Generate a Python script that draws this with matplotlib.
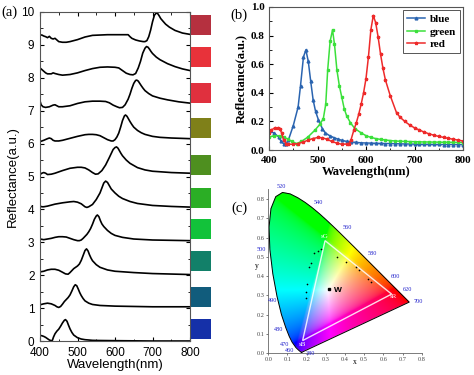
import numpy as np
import matplotlib
matplotlib.use('Agg')
import matplotlib.pyplot as plt
from matplotlib.path import Path
from matplotlib.patches import Rectangle, Polygon

# ---------------- (a) stacked reflectance spectra ----------------
wl_s0 = [400, 405, 410, 415, 420, 425, 430, 433, 436, 440, 445, 450, 455, 460, 465, 468, 472, 476, 480, 485, 490, 500, 510, 520, 540, 560, 600, 700, 800]
r_s0 = [0.17, 0.16, 0.14, 0.11, 0.07, 0.03, 0.01, 0.02, 0.12, 0.22, 0.30, 0.36, 0.45, 0.55, 0.63, 0.65, 0.60, 0.48, 0.37, 0.26, 0.18, 0.10, 0.06, 0.04, 0.02, 0.015, 0.01, 0.0, 0.0]

wl_s1 = [400, 410, 420, 430, 440, 445, 450, 455, 460, 465, 470, 475, 480, 485, 490, 494, 498, 502, 506, 510, 515, 520, 530, 540, 560, 600, 700, 800]
r_s1 = [1.10, 1.13, 1.15, 1.13, 1.08, 1.04, 1.02, 1.05, 1.12, 1.20, 1.26, 1.32, 1.40, 1.52, 1.65, 1.71, 1.68, 1.58, 1.47, 1.38, 1.29, 1.22, 1.15, 1.11, 1.08, 1.06, 1.04, 1.04]

wl_s2 = [400, 410, 420, 430, 440, 450, 460, 468, 475, 480, 485, 490, 500, 505, 510, 515, 520, 524, 528, 532, 536, 540, 550, 560, 580, 600, 650, 700, 800]
r_s2 = [2.10, 2.12, 2.16, 2.18, 2.18, 2.15, 2.09, 2.04, 2.03, 2.08, 2.14, 2.20, 2.28, 2.34, 2.45, 2.60, 2.75, 2.80, 2.74, 2.62, 2.52, 2.44, 2.32, 2.24, 2.16, 2.12, 2.08, 2.05, 2.02]

wl_s3 = [400, 410, 420, 430, 440, 450, 460, 470, 480, 490, 500, 505, 510, 515, 520, 525, 530, 535, 540, 545, 550, 553, 557, 561, 565, 570, 580, 590, 600, 620, 650, 700, 800]
r_s3 = [3.10, 3.08, 3.10, 3.12, 3.15, 3.17, 3.17, 3.16, 3.12, 3.08, 3.05, 3.05, 3.07, 3.12, 3.18, 3.24, 3.32, 3.42, 3.55, 3.70, 3.80, 3.83, 3.78, 3.66, 3.56, 3.48, 3.36, 3.27, 3.21, 3.15, 3.10, 3.07, 3.05]

wl_s4 = [400, 405, 410, 420, 430, 440, 460, 480, 490, 500, 510, 520, 525, 530, 540, 550, 560, 565, 570, 575, 580, 585, 590, 600, 610, 620, 640, 660, 700, 750, 800]
r_s4 = [4.10, 4.08, 4.08, 4.10, 4.13, 4.16, 4.20, 4.23, 4.24, 4.22, 4.17, 4.08, 4.06, 4.08, 4.15, 4.30, 4.50, 4.65, 4.80, 4.86, 4.82, 4.72, 4.62, 4.50, 4.40, 4.33, 4.24, 4.18, 4.12, 4.09, 4.07]

wl_s5 = [400, 405, 410, 415, 420, 430, 440, 460, 480, 500, 510, 520, 530, 540, 548, 555, 565, 575, 585, 590, 595, 600, 604, 608, 612, 616, 620, 630, 640, 660, 680, 700, 750, 800]
r_s5 = [5.06, 5.10, 5.12, 5.10, 5.06, 5.07, 5.10, 5.18, 5.25, 5.28, 5.28, 5.26, 5.20, 5.12, 5.07, 5.08, 5.18, 5.35, 5.58, 5.70, 5.82, 5.88, 5.90, 5.86, 5.78, 5.70, 5.63, 5.50, 5.40, 5.27, 5.20, 5.16, 5.12, 5.10]

wl_s6 = [400, 410, 420, 425, 430, 435, 440, 450, 460, 480, 500, 520, 530, 540, 550, 560, 570, 580, 590, 595, 600, 605, 610, 615, 620, 625, 628, 632, 636, 640, 645, 650, 660, 670, 680, 700, 720, 750, 800]
r_s6 = [6.06, 6.10, 6.15, 6.17, 6.15, 6.10, 6.08, 6.08, 6.10, 6.16, 6.22, 6.27, 6.28, 6.28, 6.27, 6.24, 6.18, 6.12, 6.08, 6.08, 6.12, 6.20, 6.32, 6.50, 6.70, 6.84, 6.87, 6.83, 6.75, 6.67, 6.58, 6.50, 6.40, 6.33, 6.28, 6.22, 6.19, 6.17, 6.15]

wl_s7 = [400, 403, 408, 415, 425, 435, 440, 445, 450, 460, 480, 500, 520, 540, 560, 575, 585, 595, 605, 612, 620, 627, 635, 640, 645, 650, 655, 658, 662, 666, 670, 675, 680, 690, 700, 720, 740, 770, 800]
r_s7 = [7.30, 7.18, 7.12, 7.10, 7.12, 7.17, 7.18, 7.15, 7.12, 7.12, 7.15, 7.22, 7.27, 7.29, 7.29, 7.28, 7.24, 7.17, 7.12, 7.09, 7.10, 7.18, 7.35, 7.50, 7.68, 7.83, 7.92, 7.93, 7.90, 7.83, 7.76, 7.68, 7.61, 7.52, 7.45, 7.38, 7.33, 7.27, 7.23]

wl_s8 = [400, 405, 410, 415, 420, 430, 435, 440, 450, 460, 480, 500, 520, 540, 560, 580, 600, 610, 620, 630, 640, 648, 655, 662, 668, 674, 680, 684, 688, 692, 696, 700, 710, 720, 740, 760, 780, 800]
r_s8 = [8.30, 8.25, 8.20, 8.15, 8.12, 8.12, 8.15, 8.13, 8.10, 8.08, 8.10, 8.15, 8.22, 8.28, 8.32, 8.33, 8.32, 8.30, 8.22, 8.14, 8.10, 8.09, 8.13, 8.30, 8.50, 8.75, 8.90, 8.95, 8.93, 8.87, 8.80, 8.74, 8.63, 8.55, 8.43, 8.34, 8.27, 8.22]

wl_s9 = [400, 405, 410, 415, 420, 425, 430, 435, 440, 445, 450, 460, 470, 480, 500, 520, 540, 560, 580, 600, 620, 635, 640, 645, 655, 665, 675, 680, 685, 690, 695, 700, 705, 710, 714, 718, 722, 728, 735, 745, 760, 780, 800]
r_s9 = [9.30, 9.30, 9.27, 9.25, 9.22, 9.26, 9.20, 9.18, 9.20, 9.15, 9.10, 9.08, 9.08, 9.10, 9.16, 9.24, 9.29, 9.30, 9.31, 9.31, 9.31, 9.31, 9.25, 9.20, 9.15, 9.12, 9.10, 9.10, 9.13, 9.25, 9.45, 9.70, 9.90, 9.97, 9.95, 9.88, 9.80, 9.72, 9.63, 9.54, 9.44, 9.36, 9.32]

spectra_a = [(wl_s0, r_s0), (wl_s1, r_s1), (wl_s2, r_s2), (wl_s3, r_s3), (wl_s4, r_s4),
             (wl_s5, r_s5), (wl_s6, r_s6), (wl_s7, r_s7), (wl_s8, r_s8), (wl_s9, r_s9)]

# colour of each sample, bottom to top
swatch_colors = ['#1530A8', '#115C7C', '#128069', '#12C23A', '#2BAE25',
                 '#4E8F1F', '#7F8019', '#E0303E', '#E8323A', '#B5303F']

# ---------------- (b) blue / green / red spectra ----------------
wl_blue = [400, 410, 420, 425, 430, 435, 440, 450, 460, 465, 471, 476, 481, 486, 491, 496, 502, 510, 516, 525, 535, 543, 550, 560, 570, 580, 590, 600, 610, 620, 630, 640, 650, 660, 670, 680, 690, 700, 710, 720, 730, 740, 750, 760, 770, 780, 790, 800]
r_blue = [0.13, 0.12, 0.09, 0.06, 0.045, 0.04, 0.07, 0.17, 0.30, 0.45, 0.65, 0.70, 0.62, 0.48, 0.35, 0.27, 0.21, 0.15, 0.12, 0.10, 0.085, 0.075, 0.068, 0.06, 0.056, 0.053, 0.05, 0.049, 0.048, 0.047, 0.046, 0.045, 0.045, 0.044, 0.043, 0.042, 0.042, 0.041, 0.04, 0.04, 0.04, 0.039, 0.039, 0.038, 0.038, 0.038, 0.037, 0.037]

wl_green = [400, 410, 422, 430, 440, 447, 457, 467, 480, 495, 505, 512, 517, 521, 526, 531, 535, 540, 545, 550, 555, 560, 568, 577, 590, 600, 610, 620, 630, 640, 650, 660, 670, 680, 690, 700, 710, 720, 730, 740, 750, 760, 770, 780, 790, 800]
r_green = [0.09, 0.10, 0.10, 0.09, 0.075, 0.06, 0.045, 0.06, 0.09, 0.14, 0.18, 0.22, 0.32, 0.56, 0.76, 0.84, 0.74, 0.56, 0.45, 0.37, 0.29, 0.24, 0.19, 0.15, 0.12, 0.10, 0.088, 0.08, 0.074, 0.07, 0.066, 0.063, 0.061, 0.06, 0.059, 0.058, 0.057, 0.056, 0.056, 0.055, 0.055, 0.054, 0.054, 0.053, 0.053, 0.052]

wl_red = [400, 405, 412, 418, 422, 426, 430, 435, 440, 450, 460, 470, 480, 490, 502, 510, 520, 529, 540, 550, 560, 565, 569, 575, 580, 585, 590, 595, 600, 605, 610, 615, 620, 625, 630, 635, 640, 650, 663, 670, 680, 690, 700, 710, 720, 730, 740, 750, 760, 770, 780, 790, 800]
r_red = [0.12, 0.14, 0.155, 0.155, 0.15, 0.12, 0.07, 0.045, 0.04, 0.04, 0.045, 0.055, 0.068, 0.08, 0.088, 0.085, 0.075, 0.06, 0.048, 0.04, 0.042, 0.045, 0.07, 0.14, 0.19, 0.25, 0.32, 0.40, 0.50, 0.65, 0.84, 0.94, 0.89, 0.79, 0.67, 0.57, 0.49, 0.38, 0.26, 0.23, 0.20, 0.175, 0.155, 0.14, 0.125, 0.113, 0.103, 0.095, 0.088, 0.081, 0.075, 0.069, 0.063]

# ---------------- (c) CIE 1931 chromaticity ----------------
cie_wl = [380, 400, 420, 440, 450, 460, 470, 475, 480, 485, 490, 495, 500, 505, 510, 515, 520, 525, 530, 535, 540, 545, 550, 555, 560, 565, 570, 575, 580, 585, 590, 595, 600, 605, 610, 620, 630, 640, 650, 700]
cie_x = [0.1741, 0.1733, 0.1714, 0.1644, 0.1566, 0.1440, 0.1241, 0.1096, 0.0913, 0.0687, 0.0454, 0.0235, 0.0082, 0.0039, 0.0139, 0.0389, 0.0743, 0.1142, 0.1547, 0.1929, 0.2296, 0.2658, 0.3016, 0.3373, 0.3731, 0.4087, 0.4441, 0.4788, 0.5125, 0.5448, 0.5752, 0.6029, 0.6270, 0.6482, 0.6658, 0.6915, 0.7079, 0.7190, 0.7260, 0.7347]
cie_y = [0.0050, 0.0048, 0.0051, 0.0109, 0.0177, 0.0297, 0.0578, 0.0868, 0.1327, 0.2007, 0.2950, 0.4127, 0.5384, 0.6548, 0.7502, 0.8120, 0.8338, 0.8262, 0.8059, 0.7816, 0.7543, 0.7243, 0.6923, 0.6589, 0.6245, 0.5896, 0.5547, 0.5202, 0.4866, 0.4544, 0.4242, 0.3965, 0.3725, 0.3514, 0.3340, 0.3083, 0.2920, 0.2809, 0.2740, 0.2653]

locus_labels = ['520', '540', '560', '580', '600', '620', '700', '500', '490', '480', '470', '460', '380']
locus_label_x = [0.07, 0.26, 0.41, 0.544, 0.664, 0.727, 0.78, -0.035, 0.02, 0.056, 0.083, 0.113, 0.22]
locus_label_y = [0.867, 0.78, 0.653, 0.515, 0.397, 0.333, 0.266, 0.536, 0.276, 0.124, 0.048, 0.017, -0.003]

srgb_x = [0.643, 0.296, 0.179]
srgb_y = [0.307, 0.584, 0.066]
srgb_names = ['sR', 'sG', 'sB']
white_xy = (0.317, 0.332)

sample_x = [0.273, 0.257, 0.240, 0.221, 0.214, 0.200, 0.197, 0.197, 0.360, 0.405, 0.457, 0.475, 0.518, 0.536]
sample_y = [0.539, 0.530, 0.518, 0.470, 0.446, 0.358, 0.320, 0.285, 0.501, 0.475, 0.446, 0.432, 0.384, 0.371]

W, H = 474, 375
fig = plt.figure(figsize=(W / 100, H / 100), dpi=100)
sans = ['Liberation Sans', 'DejaVu Sans']
serif = ['Liberation Serif', 'DejaVu Serif']

# ---- panel (a)
ax_a = fig.add_axes([40 / W, 1 - 341 / H, 150 / W, 329 / H])
for wl, r in spectra_a:
    ax_a.plot(wl, r, color='black', lw=1.2)
ax_a.set_xlim(400, 800)
ax_a.set_ylim(0, 10)
ax_a.set_xticks([400, 500, 600, 700, 800])
ax_a.set_xticks(np.arange(450, 800, 100), minor=True)
ax_a.set_yticks(range(0, 11))
ax_a.set_yticks(np.arange(0.5, 10, 1), minor=True)
ax_a.tick_params(which='both', direction='in', top=True, right=True, labelsize=8.5)
ax_a.tick_params(which='major', length=3)
ax_a.tick_params(which='minor', length=1.8)
ax_a.tick_params(axis='x', pad=4.5)
ax_a.tick_params(axis='y', pad=4)
for lab in ax_a.get_xticklabels() + ax_a.get_yticklabels():
    lab.set_family(sans)
ax_a.set_xlabel('Wavelength(nm)', fontsize=9.5, family=sans, labelpad=0)
ax_a.set_ylabel('Reflectance(a.u.)', fontsize=9.5, family=sans, labelpad=2)
for s in ax_a.spines.values():
    s.set_linewidth(0.8)
    s.set_color('#555555')

# colour swatches next to panel (a)
ax_sw = fig.add_axes([191 / W, 1 - 341 / H, 20 / W, 329 / H])
ax_sw.set_xlim(0, 1)
ax_sw.set_ylim(0, 10)
ax_sw.axis('off')
swatch_centers = [0.36, 1.34, 2.43, 3.40, 4.35, 5.35, 6.47, 7.54, 8.63, 9.60]
for c, col in zip(swatch_centers, swatch_colors):
    ax_sw.add_patch(Rectangle((0, c - 0.3), 1, 0.6, color=col, lw=0))

fig.text(1 / W, 1 - 12 / H, '(a)', fontsize=10.5, family=serif, va='center', ha='left')

# ---- panel (b)
ax_b = fig.add_axes([269 / W, 1 - 150 / H, 194 / W, 143 / H])
ax_b.plot(wl_blue, r_blue, color='#2A64B0', lw=1.1, marker='^', ms=2.0, label='blue')
ax_b.plot(wl_green, r_green, color='#3BE03B', lw=1.1, marker='s', ms=1.7, label='green')
ax_b.plot(wl_red, r_red, color='#EE2A2A', lw=1.1, marker='*', ms=2.4, label='red')
ax_b.set_xlim(400, 800)
ax_b.set_ylim(0, 1.0)
ax_b.set_xticks([400, 500, 600, 700, 800])
ax_b.set_yticks([0.0, 0.2, 0.4, 0.6, 0.8, 1.0])
ax_b.set_xticks(np.arange(450, 800, 100), minor=True)
ax_b.set_yticks(np.arange(0.1, 1.0, 0.2), minor=True)
ax_b.tick_params(which='both', direction='in', labelsize=8)
ax_b.tick_params(axis='x', pad=4)
ax_b.tick_params(axis='y', pad=3)
ax_b.tick_params(which='major', length=3)
ax_b.tick_params(which='minor', length=1.8)
ax_b.yaxis.set_major_formatter(plt.FormatStrFormatter('%.1f'))
for lab in ax_b.get_xticklabels() + ax_b.get_yticklabels():
    lab.set_family(serif)
    lab.set_fontweight('bold')
ax_b.set_xlabel('Wavelength(nm)', fontsize=9, family=serif, fontweight='bold', labelpad=1)
ax_b.set_ylabel('Reflectance(a.u.)', fontsize=9, family=serif, fontweight='bold', labelpad=3)
leg = ax_b.legend(loc='upper right', prop={'family': serif, 'weight': 'bold', 'size': 8},
                  handlelength=1.6, handletextpad=0.4, labelspacing=0.25, borderpad=0.35,
                  fancybox=False, framealpha=1, borderaxespad=0.3)
leg.get_frame().set_edgecolor('#555555')
leg.get_frame().set_linewidth(0.7)
for s in ax_b.spines.values():
    s.set_linewidth(0.8)
    s.set_color('#555555')
fig.text(230 / W, 1 - 15 / H, '(b)', fontsize=10.5, family=serif, va='center', ha='left')

# ---- panel (c)
ax_c = fig.add_axes([268.3 / W, 1 - 353.3 / H, 153.4 / W, 0.85 * 192.9 / H])
ax_c.set_xlim(0, 0.8)
ax_c.set_ylim(0, 0.85)

# colour fill of the horseshoe
gx = np.linspace(0, 0.8, 400)
gy = np.linspace(0.001, 0.85, 425)
XX, YY = np.meshgrid(gx, gy)
Xc = XX / YY
Zc = (1 - XX - YY) / YY
M = np.array([[3.2406, -1.5372, -0.4986],
              [-0.9689, 1.8758, 0.0415],
              [0.0557, -0.2040, 1.0570]])
xyz = np.stack([Xc, np.ones_like(Xc), Zc], axis=-1)
rgb = xyz @ M.T
rgb = np.clip(rgb, 0, None)
rgb = rgb / np.maximum(rgb.max(axis=-1, keepdims=True), 1e-9)
rgb = np.where(rgb <= 0.0031308, 12.92 * rgb, 1.055 * rgb ** (1 / 2.4) - 0.055)
locus = Path(np.column_stack([cie_x + [cie_x[0]], cie_y + [cie_y[0]]]))
inside = locus.contains_points(np.column_stack([XX.ravel(), YY.ravel()])).reshape(XX.shape)
img = np.dstack([rgb, inside.astype(float)])
ax_c.imshow(img, origin='lower', extent=[0, 0.8, 0.001, 0.85], aspect='auto', interpolation='bilinear')
ax_c.plot(cie_x + [cie_x[0]], cie_y + [cie_y[0]], color='black', lw=0.7)

ax_c.add_patch(Polygon(np.column_stack([srgb_x, srgb_y]), closed=True, fill=False,
                       edgecolor='white', lw=1.0, alpha=0.85))
for xv, yv, nm in zip(srgb_x, srgb_y, srgb_names):
    ax_c.text(xv + (0.01 if nm == 'sR' else 0.0), yv + (0.02 if nm == 'sG' else -0.02 if nm == 'sB' else -0.015),
              nm, color='white', fontsize=5, family=serif, ha='center', va='center')
ax_c.plot(sample_x, sample_y, 'o', color='black', ms=1.2, mew=0)
ax_c.plot(*white_xy, 's', color='black', ms=2)
ax_c.text(white_xy[0] + 0.025, white_xy[1] - 0.007, 'W', fontsize=6, family=sans, fontweight='bold', va='center')

for lab, xv, yv in zip(locus_labels, locus_label_x, locus_label_y):
    ax_c.text(xv, yv, lab, color='#2222CC', fontsize=4.5, family=serif, ha='center', va='center', clip_on=False)

ax_c.spines['top'].set_visible(False)
ax_c.spines['right'].set_visible(False)
for s in ['left', 'bottom']:
    ax_c.spines[s].set_linewidth(0.6)
    ax_c.spines[s].set_color('#666666')
ax_c.set_xticks(np.arange(0, 0.81, 0.1))
ax_c.set_yticks(np.arange(0, 0.81, 0.1))
ax_c.xaxis.set_major_formatter(plt.FormatStrFormatter('%.1f'))
ax_c.yaxis.set_major_formatter(plt.FormatStrFormatter('%.1f'))
ax_c.tick_params(labelsize=4.5, length=1.5, width=0.5, pad=1.5, colors='#444444')
for lab in ax_c.get_xticklabels() + ax_c.get_yticklabels():
    lab.set_family(serif)
ax_c.text(0.452, -0.045, 'x', fontsize=5.5, family=serif, ha='center', va='center', clip_on=False)
ax_c.text(-0.062, 0.45, 'y', fontsize=5.5, family=serif, ha='center', va='center', clip_on=False)
fig.text(231 / W, 1 - 208 / H, '(c)', fontsize=10.5, family=serif, va='center', ha='left')

fig.savefig('out.png', dpi=100)
